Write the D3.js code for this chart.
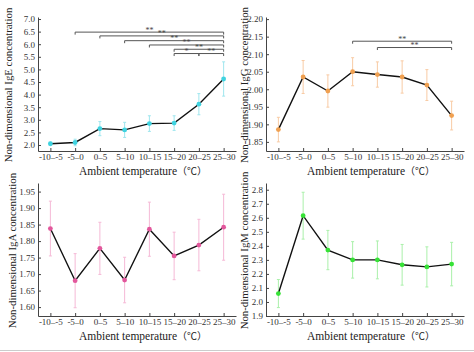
<!DOCTYPE html>
<html>
<head>
<meta charset="utf-8">
<script src="https://cdn.jsdelivr.net/npm/d3@7"></script>
<style>
  body { margin: 0; background: #fff; }
  svg text, svg tspan { font-family: "Liberation Serif", "Times New Roman", "DejaVu Serif", serif !important; }
  svg tspan.cjk { font-family: "Noto Sans CJK SC", serif !important; }
</style>
</head>
<body>
<svg id="chart" width="474" height="352"></svg>
<script>
// temperature groups (x axis)
const categories = ["-10–-5", "-5–0", "0–5", "5–10", "10–15", "15–20", "20–25", "25–30"];

// IgE
const igeMean = [2.05, 2.10, 2.65, 2.60, 2.85, 2.87, 3.62, 4.62];
const igeErr = [0.06, 0.13, 0.28, 0.30, 0.31, 0.29, 0.42, 0.68];
const igeTicks = [2.0, 2.5, 3.0, 3.5, 4.0, 4.5, 5.0, 5.5, 6.0, 6.5, 7.0];
const igeSig = [
  { a: "-5–0", b: "25–30", y: 6.48, t: "**" },
  { a: "0–5", b: "25–30", y: 6.33, t: "**" },
  { a: "5–10", b: "25–30", y: 6.14, t: "**" },
  { a: "10–15", b: "25–30", y: 5.97, t: "**" },
  { a: "15–20", b: "25–30", y: 5.80, t: "**" },
  { a: "15–20", b: "20–25", y: 5.63, t: "*" },
  { a: "20–25", b: "25–30", y: 5.63, t: "**" }
];

// IgG
const iggMean = [1.885, 2.035, 1.995, 2.050, 2.042, 2.035, 2.012, 1.925];
const iggErr = [0.035, 0.047, 0.046, 0.040, 0.036, 0.046, 0.044, 0.041];
const iggTicks = [1.85, 1.90, 1.95, 2.00, 2.05, 2.10, 2.15, 2.20];
const iggSig = [
  { a: "5–10", b: "25–30", y: 2.137, t: "**" },
  { a: "10–15", b: "25–30", y: 2.119, t: "**" }
];

// IgA
const igaMean = [1.838, 1.680, 1.778, 1.682, 1.836, 1.755, 1.788, 1.842];
const igaErr = [0.083, 0.082, 0.079, 0.069, 0.082, 0.072, 0.078, 0.100];
const igaTicks = [1.60, 1.65, 1.70, 1.75, 1.80, 1.85, 1.90, 1.95];

// IgM
const igmMean = [2.06, 2.615, 2.37, 2.30, 2.30, 2.265, 2.25, 2.27];
const igmErr = [0.10, 0.167, 0.14, 0.13, 0.135, 0.145, 0.143, 0.155];
const igmTicks = [1.9, 2.0, 2.1, 2.2, 2.3, 2.4, 2.5, 2.6, 2.7, 2.8];

const svg = d3.select("#chart");

const panels = [
  { name: "IgE", mean: igeMean, err: igeErr, ticks: igeTicks, fmt: ".1f", sig: igeSig,
    yDomain: [1.762, 7.08], left: 38, right: 236, top: 17, bottom: 151,
    dot: "#3fd3e0", bar: "#9fe6ee", titleX: 8 },
  { name: "IgG", mean: iggMean, err: iggErr, ticks: iggTicks, fmt: ".2f", sig: iggSig,
    yDomain: [1.824, 2.206], left: 266, right: 464, top: 17, bottom: 151,
    dot: "#f0a050", bar: "#f8cba4", titleX: 243.5 },
  { name: "IgA", mean: igaMean, err: igaErr, ticks: igaTicks, fmt: ".2f", sig: [],
    yDomain: [1.573, 1.976], left: 38, right: 236, top: 183, bottom: 316,
    dot: "#e2579c", bar: "#f5b9d6", titleX: 12 },
  { name: "IgM", mean: igmMean, err: igmErr, ticks: igmTicks, fmt: ".1f", sig: [],
    yDomain: [1.9, 2.848], left: 266, right: 464, top: 183, bottom: 316,
    dot: "#36e236", bar: "#aaf0aa", titleX: 243.5 }
];

panels.forEach(p => {
  const x = d3.scalePoint().domain(categories).range([p.left, p.right]).padding(0.5);
  const y = d3.scaleLinear().domain(p.yDomain).range([p.bottom, p.top]);
  const g = svg.append("g");

  // axes
  const xAxis = g.append("g")
    .attr("transform", "translate(0," + p.bottom + ")")
    .call(d3.axisBottom(x).tickSizeInner(-3).tickSizeOuter(0).tickPadding(3));
  const yAxis = g.append("g")
    .attr("transform", "translate(" + p.left + ",0)")
    .call(d3.axisLeft(y).tickValues(p.ticks).tickFormat(d3.format(p.fmt))
      .tickSizeInner(-3).tickSizeOuter(0).tickPadding(3));
  [xAxis, yAxis].forEach(a => {
    a.attr("font-family", null);
    a.select(".domain").attr("stroke", "#444");
    a.selectAll(".tick line").attr("stroke", "#444");
    a.selectAll("text").attr("fill", "#333").style("font-size", "9px");
  });

  // error bars
  const eb = g.append("g").attr("stroke", p.bar).attr("stroke-width", 1);
  categories.forEach((c, i) => {
    const cx = x(c), lo = y(p.mean[i] - p.err[i]), hi = y(p.mean[i] + p.err[i]);
    eb.append("line").attr("x1", cx).attr("x2", cx).attr("y1", lo).attr("y2", hi);
    eb.append("line").attr("x1", cx - 1.5).attr("x2", cx + 1.5).attr("y1", lo).attr("y2", lo);
    eb.append("line").attr("x1", cx - 1.5).attr("x2", cx + 1.5).attr("y1", hi).attr("y2", hi);
  });

  // mean line
  const line = d3.line().x((d, i) => x(categories[i])).y(d => y(d));
  g.append("path").datum(p.mean)
    .attr("d", line).attr("fill", "none").attr("stroke", "#111").attr("stroke-width", 1.4);

  g.selectAll("circle.pt").data(p.mean).enter().append("circle")
    .attr("cx", (d, i) => x(categories[i]))
    .attr("cy", d => y(d))
    .attr("r", 2.4)
    .attr("fill", p.dot);

  // significance brackets
  p.sig.forEach(s => {
    const x1 = x(s.a), x2 = x(s.b), yy = y(s.y);
    g.append("path")
      .attr("d", "M" + x1 + "," + (yy + 2.5) + "V" + yy + "H" + x2 + "V" + (yy + 2.5))
      .attr("fill", "none").attr("stroke", "#555").attr("stroke-width", 1);
    g.append("text")
      .attr("x", (x1 + x2) / 2).attr("y", yy + 0.5)
      .attr("text-anchor", "middle")
      .attr("fill", "#444").style("font-size", "8px")
      .text(s.t);
  });

  // titles
  const xt = g.append("text")
    .attr("x", (p.left + p.right) / 2 + 6)
    .attr("y", p.bottom + 24)
    .attr("text-anchor", "middle")
    .attr("fill", "#222").style("font-size", "11.5px");
  xt.append("tspan").text("Ambient temperature");
  xt.append("tspan").attr("class", "cjk").style("font-size", "10px").text("（℃）");

  g.append("text")
    .attr("transform", "translate(" + p.titleX + "," + ((p.top + p.bottom) / 2 + 1) + ") rotate(-90)")
    .attr("text-anchor", "middle")
    .attr("dominant-baseline", "central")
    .attr("fill", "#222").style("font-size", "10.8px")
    .text("Non-dimensional " + p.name + " concentration");
});

// faint frame at the bottom edge of the figure
svg.append("line").attr("x1", 0).attr("x2", 474).attr("y1", 350.5).attr("y2", 350.5)
  .attr("stroke", "#ccc").attr("stroke-width", 1);
</script>
</body>
</html>
